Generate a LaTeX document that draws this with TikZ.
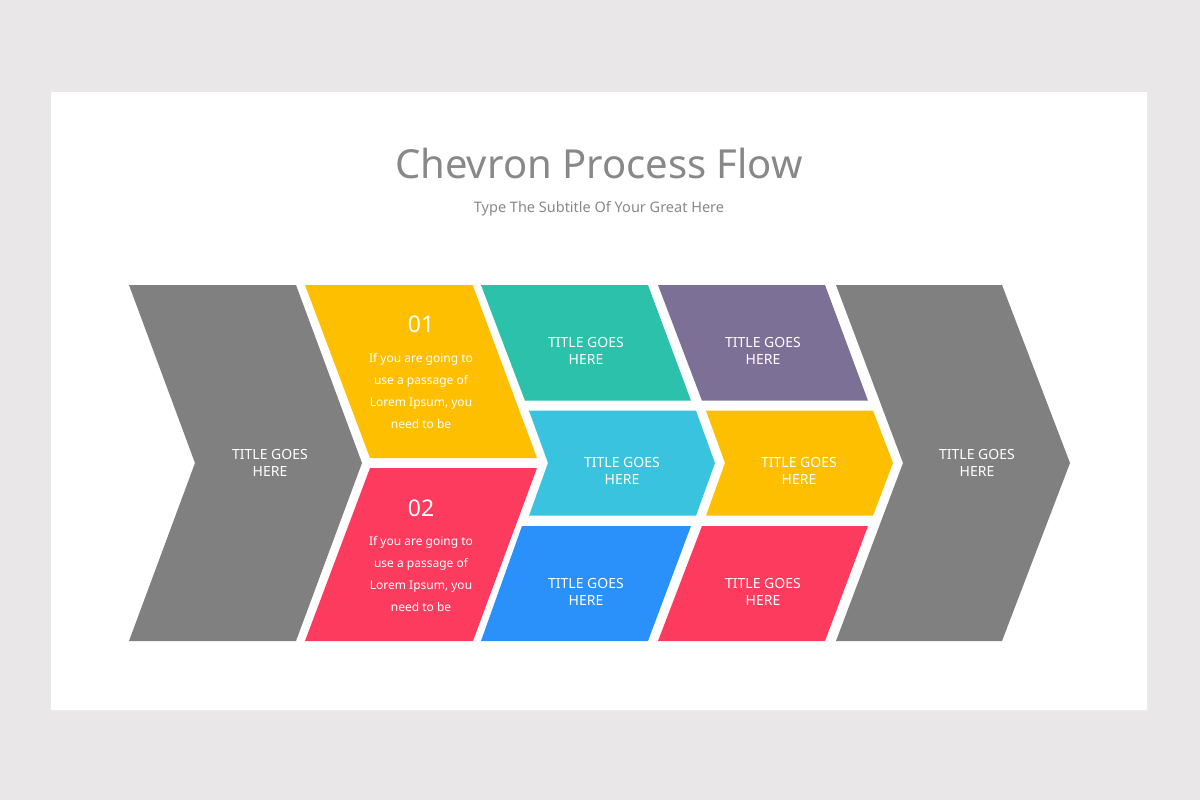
\documentclass[tikz,border=0pt]{standalone}
\usepackage{fontspec}
\setmainfont{Noto Sans}
\definecolor{bgc}{HTML}{E9E7E8}
\definecolor{gr}{HTML}{808080}
\definecolor{yl}{HTML}{FDBF00}
\definecolor{rd}{HTML}{FD3B5E}
\definecolor{tl}{HTML}{2BC1AB}
\definecolor{cy}{HTML}{3AC3DF}
\definecolor{bl}{HTML}{2A90FA}
\definecolor{pu}{HTML}{7C7096}
\definecolor{tt}{HTML}{888888}
\begin{document}
\begin{tikzpicture}[x=1pt,y=-1pt,
  lbl/.style={text=white,font=\bfseries\fontsize{14}{16.5}\selectfont,align=center},
  num/.style={text=white,font=\fontsize{23}{26}\selectfont},
  body/.style={text=white,font=\fontsize{12}{22}\selectfont,align=center}]
\useasboundingbox (0,0) rectangle (1200,800);
\fill[bgc] (0,0) rectangle (1200,800);
\fill[black!8] (52,94) rectangle (1149,712);
\fill[white] (51,92) rectangle (1147,710);
\node[text=tt,font=\fontsize{40}{44}\selectfont] (title) at (599,163) {Chevron Process Flow};
\node[text=tt,font=\fontsize{14.5}{17}\selectfont] (sub) at (599,209) {Type The Subtitle Of Your Great Here};
% left gray
\fill[gr] (129,285)--(296,285)--(362,463)--(296,641)--(129,641)--(195,463)--cycle;
\node[lbl] (g1) at (270,463) {TITLE GOES\\HERE};
% yellow 01
\fill[yl] (305,285)--(472.7,285)--(537,458)--(370,458)--cycle;
\node[num] (n1) at (421,324) {01};
\node[body] (b1) at (421,391) {If you are going to\\use a passage of\\Lorem Ipsum, you\\need to be};
% red 02
\fill[rd] (370,468)--(537,468)--(473,641)--(305,641)--cycle;
\node[num] (n2) at (421,508) {02};
\node[body] (b2) at (421,574) {If you are going to\\use a passage of\\Lorem Ipsum, you\\need to be};
% teal
\fill[tl] (481,285)--(648,285)--(691,400.7)--(525,400.7)--cycle;
\node[lbl] (t1) at (586,351) {TITLE GOES\\HERE};
% cyan
\fill[cy] (529,410.7)--(696,410.7)--(715,463)--(696,515.7)--(529,515.7)--(548,463)--cycle;
\node[lbl] (c1) at (622,471) {TITLE GOES\\HERE};
% blue
\fill[bl] (522,526)--(691,526)--(648,641)--(481,641)--cycle;
\node[lbl] (bl1) at (586,592) {TITLE GOES\\HERE};
% purple
\fill[pu] (658,285)--(825,285)--(868,400.7)--(702,400.7)--cycle;
\node[lbl] (p1) at (763,351) {TITLE GOES\\HERE};
% yellow 2
\fill[yl] (706,410.7)--(873,410.7)--(893,463)--(873,515.7)--(706,515.7)--(725,463)--cycle;
\node[lbl] (y2) at (799,471) {TITLE GOES\\HERE};
% red 3
\fill[rd] (702,526)--(868,526)--(825,641)--(658,641)--cycle;
\node[lbl] (r3) at (763,592) {TITLE GOES\\HERE};
% right gray
\fill[gr] (836,285)--(1002,285)--(1070,463)--(1002,641)--(836,641)--(903,463)--cycle;
\node[lbl] (g2) at (977,463) {TITLE GOES\\HERE};
\end{tikzpicture}
\end{document}
